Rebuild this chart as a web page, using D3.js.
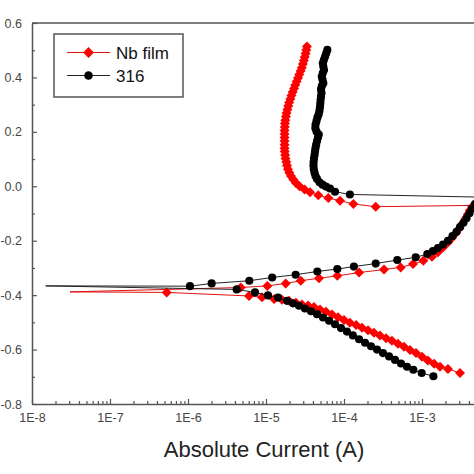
<!DOCTYPE html>
<html>
<head>
<meta charset="utf-8">
<script src="https://cdn.jsdelivr.net/npm/d3@7"></script>
<style>
  body { margin: 0; background: #fff; }
  text { font-family: "Liberation Sans", Arial, sans-serif; }
</style>
</head>
<body>
<script>
// axis ticks
const xTickValues = [1e-8, 1e-7, 1e-6, 1e-5, 1e-4, 1e-3];
const xTickLabels = ["1E-8", "1E-7", "1E-6", "1E-5", "1E-4", "1E-3"];
const yTickValues = [0.6, 0.4, 0.2, 0.0, -0.2, -0.4, -0.6, -0.8];
const yTickLabels = ["0.6", "0.4", "0.2", "0.0", "-0.2", "-0.4", "-0.6", "-0.8"];
const seriesNames = ["Nb film", "316"];

// [current (A), potential (V)] in scan order
const nbCathodic = [[3.07e-3,-0.686],[2.15e-3,-0.671],[1.70e-3,-0.663],[1.43e-3,-0.652],[1.19e-3,-0.640],[1.00e-3,-0.626],[8.38e-4,-0.613],[7.02e-4,-0.602],[5.88e-4,-0.590],[4.92e-4,-0.579],[4.12e-4,-0.568],[3.46e-4,-0.558],[2.89e-4,-0.548],[2.42e-4,-0.538],[2.03e-4,-0.529],[1.70e-4,-0.520],[1.43e-4,-0.510],[1.19e-4,-0.501],[1.00e-4,-0.491],[8.38e-5,-0.481],[7.02e-5,-0.471],[5.88e-5,-0.461],[4.92e-5,-0.453],[4.12e-5,-0.444],[3.46e-5,-0.438],[2.89e-5,-0.434],[2.42e-5,-0.428],[1.97e-5,-0.421],[1.60e-5,-0.417],[1.27e-5,-0.414],[8.89e-6,-0.408],[6.05e-6,-0.403],[5.33e-7,-0.390]];
const nbEcorr = [[3.07e-8,-0.388]];
const nbAnodic = [[4.74e-6,-0.372],[1.04e-5,-0.366],[1.79e-5,-0.357],[2.79e-5,-0.347],[4.78e-5,-0.338],[8.21e-5,-0.329],[1.56e-4,-0.317],[3.26e-4,-0.306],[5.33e-4,-0.298],[7.67e-4,-0.286],[1.04e-3,-0.274],[1.34e-3,-0.259],[1.60e-3,-0.242],[1.86e-3,-0.225],[2.15e-3,-0.207],[2.42e-3,-0.190],[2.73e-3,-0.172],[3.03e-3,-0.154],[3.31e-3,-0.137],[3.61e-3,-0.119],[3.89e-3,-0.102],[4.12e-3,-0.088],[4.38e-3,-0.075],[5.22e-3,-0.070]];
const nbPassive = [[2.55e-4,-0.075],[1.32e-4,-0.065],[8.89e-5,-0.053],[6.29e-5,-0.043],[4.68e-5,-0.033],[3.67e-5,-0.022],[3.12e-5,-0.012],[2.69e-5,0.000],[2.42e-5,0.012],[2.24e-5,0.025],[2.09e-5,0.038],[1.99e-5,0.050],[1.91e-5,0.063],[1.86e-5,0.076],[1.82e-5,0.089],[1.78e-5,0.102],[1.76e-5,0.115],[1.74e-5,0.128],[1.73e-5,0.140],[1.73e-5,0.153],[1.73e-5,0.166],[1.73e-5,0.179],[1.73e-5,0.192],[1.73e-5,0.205],[1.74e-5,0.218],[1.75e-5,0.231],[1.77e-5,0.243],[1.80e-5,0.256],[1.83e-5,0.269],[1.88e-5,0.282],[1.93e-5,0.295],[1.98e-5,0.308],[2.05e-5,0.321],[2.12e-5,0.334],[2.20e-5,0.346],[2.29e-5,0.359],[2.37e-5,0.372],[2.47e-5,0.385],[2.57e-5,0.398],[2.67e-5,0.411],[2.78e-5,0.424],[2.88e-5,0.436],[2.97e-5,0.449],[3.06e-5,0.462],[3.14e-5,0.475],[3.22e-5,0.488],[3.29e-5,0.501],[3.35e-5,0.514]];

const s316Cathodic = [[1.40e-3,-0.698],[9.91e-4,-0.686],[7.74e-4,-0.674],[6.42e-4,-0.663],[5.38e-4,-0.651],[4.51e-4,-0.638],[3.78e-4,-0.625],[3.16e-4,-0.613],[2.65e-4,-0.600],[2.22e-4,-0.588],[1.86e-4,-0.575],[1.56e-4,-0.562],[1.30e-4,-0.548],[1.09e-4,-0.534],[9.15e-5,-0.521],[7.67e-5,-0.507],[6.42e-5,-0.494],[5.38e-5,-0.482],[4.51e-5,-0.470],[3.78e-5,-0.459],[3.16e-5,-0.449],[2.65e-5,-0.439],[2.22e-5,-0.430],[1.86e-5,-0.421],[1.43e-5,-0.409],[1.06e-5,-0.401],[7.23e-6,-0.390],[4.21e-6,-0.379]];
const s316Ecorr = [[1.50e-8,-0.366]];
const s316Anodic = [[1.06e-6,-0.367],[2.01e-6,-0.357],[6.11e-6,-0.347],[1.20e-5,-0.335],[2.40e-5,-0.325],[4.55e-5,-0.313],[8.21e-5,-0.304],[1.34e-4,-0.295],[2.55e-4,-0.284],[4.82e-4,-0.271],[8.30e-4,-0.261],[1.17e-3,-0.249],[1.38e-3,-0.238],[1.60e-3,-0.227],[1.86e-3,-0.214],[2.15e-3,-0.200],[2.46e-3,-0.183],[2.77e-3,-0.167],[3.07e-3,-0.150],[3.40e-3,-0.134],[3.72e-3,-0.117],[4.06e-3,-0.099],[4.38e-3,-0.082],[4.78e-3,-0.065],[5.22e-3,-0.051],[5.88e-3,-0.040]];
const s316Passive = [[1.19e-4,-0.030],[7.67e-5,-0.020],[6.62e-5,-0.008],[5.88e-5,-0.001],[5.30e-5,0.006],[4.85e-5,0.015],[4.51e-5,0.027],[4.31e-5,0.038],[4.19e-5,0.050],[4.10e-5,0.063],[4.06e-5,0.076],[4.08e-5,0.089],[4.12e-5,0.102],[4.19e-5,0.115],[4.25e-5,0.128],[4.31e-5,0.140],[4.40e-5,0.153],[4.51e-5,0.166],[4.64e-5,0.179],[4.75e-5,0.190],[4.44e-5,0.201],[4.29e-5,0.214],[4.32e-5,0.227],[4.44e-5,0.240],[4.57e-5,0.253],[4.74e-5,0.265],[4.85e-5,0.278],[4.92e-5,0.291],[4.97e-5,0.304],[5.01e-5,0.317],[5.07e-5,0.330],[5.15e-5,0.343],[5.07e-5,0.356],[5.19e-5,0.368],[5.43e-5,0.379],[5.30e-5,0.392],[5.19e-5,0.403],[5.35e-5,0.416],[5.54e-5,0.427],[5.43e-5,0.440],[5.35e-5,0.452],[5.51e-5,0.464],[5.71e-5,0.476],[5.91e-5,0.489],[6.11e-5,0.501]];

const W = 474, H = 474;
const svg = d3.select("body").append("svg")
  .attr("width", W)
  .attr("height", H)
  .style("display", "block");

// plot continues past the right edge of the picture
const x = d3.scaleLog().domain([1e-8, 1e-2]).range([32, 500]);
const y = d3.scaleLinear().domain([-0.8, 0.6]).range([404, 23]);

const axisColor = "#555";

// minor ticks
svg.append("g")
  .attr("transform", "translate(0,404)")
  .call(d3.axisBottom(x).tickValues(x.ticks().filter(v => !xTickValues.includes(v) && v < 1e-2)).tickSize(-3).tickSizeOuter(0).tickFormat(""))
  .call(g => g.select(".domain").remove());
svg.append("g")
  .attr("transform", "translate(32,0)")
  .call(d3.axisLeft(y).tickValues(d3.range(-0.7, 0.6, 0.2)).tickSize(-3).tickSizeOuter(0).tickFormat(""))
  .call(g => g.select(".domain").remove());

// major axes
const xAxis = svg.append("g")
  .attr("transform", "translate(0,404)")
  .call(d3.axisBottom(x).tickValues(xTickValues).tickSize(-5).tickSizeOuter(0).tickPadding(9)
    .tickFormat((d, i) => xTickLabels[i]));
const yAxis = svg.append("g")
  .attr("transform", "translate(32,0)")
  .call(d3.axisLeft(y).tickValues(yTickValues).tickSize(-5).tickSizeOuter(0).tickPadding(10)
    .tickFormat((d, i) => yTickLabels[i]));

svg.selectAll(".tick line").attr("stroke", axisColor).attr("stroke-width", 1.2);
[xAxis, yAxis].forEach(g => {
  g.select(".domain").attr("stroke", axisColor).attr("stroke-width", 1.5);
  g.selectAll("text").attr("fill", "#444").style("font-size", "12.5px")
    .style("font-family", "'Liberation Sans', Arial, sans-serif");
});

// top frame line
svg.append("line")
  .attr("x1", x(1e-8)).attr("x2", x(1e-2))
  .attr("y1", y(0.6)).attr("y2", y(0.6))
  .attr("stroke", axisColor).attr("stroke-width", 1.5);

svg.append("text")
  .attr("x", 264).attr("y", 457)
  .attr("text-anchor", "middle")
  .style("font-size", "22px")
  .attr("fill", "#222")
  .text("Absolute Current (A)");

const line = d3.line().x(d => x(d[0])).y(d => y(d[1]));
const diamond = d3.symbol().type(d3.symbolSquare).size(50);
const circle = d3.symbol().type(d3.symbolCircle).size(52);

const series = [
  { name: seriesNames[0], color: "#ff0000", line: "#e01010", sym: diamond, rot: 45,
    path: nbCathodic.concat(nbEcorr, nbAnodic, nbPassive),
    marks: nbCathodic.concat(nbAnodic, nbPassive) },
  { name: seriesNames[1], color: "#000000", line: "#222", sym: circle, rot: 0,
    path: s316Cathodic.concat(s316Ecorr, s316Anodic, s316Passive),
    marks: s316Cathodic.concat(s316Anodic, s316Passive) }
];

series.forEach(s => {
  const g = svg.append("g");
  g.append("path")
    .attr("d", line(s.path))
    .attr("fill", "none")
    .attr("stroke", s.line)
    .attr("stroke-width", 1);
  g.selectAll("path.m")
    .data(s.marks)
    .enter()
    .append("path")
    .attr("class", "m")
    .attr("d", s.sym())
    .attr("transform", d => `translate(${x(d[0])},${y(d[1])}) rotate(${s.rot})`)
    .attr("fill", s.color);
});

// legend
const lg = svg.append("g");
lg.append("rect")
  .attr("x", 54).attr("y", 34).attr("width", 129).attr("height", 63)
  .attr("fill", "#fff").attr("stroke", axisColor).attr("stroke-width", 1.5);
series.forEach((s, i) => {
  const ly = 52.5 + i * 23;
  lg.append("line")
    .attr("x1", 67).attr("x2", 110).attr("y1", ly).attr("y2", ly)
    .attr("stroke", s.line).attr("stroke-width", 1);
  lg.append("path")
    .attr("d", (i === 0 ? d3.symbol().type(d3.symbolSquare).size(58) : d3.symbol().type(d3.symbolCircle).size(58))())
    .attr("transform", `translate(88.5,${ly}) rotate(${s.rot})`)
    .attr("fill", s.color);
  lg.append("text")
    .attr("x", 116).attr("y", ly + 6)
    .style("font-size", "17px")
    .attr("fill", "#111")
    .text(s.name);
});
</script>
</body>
</html>
